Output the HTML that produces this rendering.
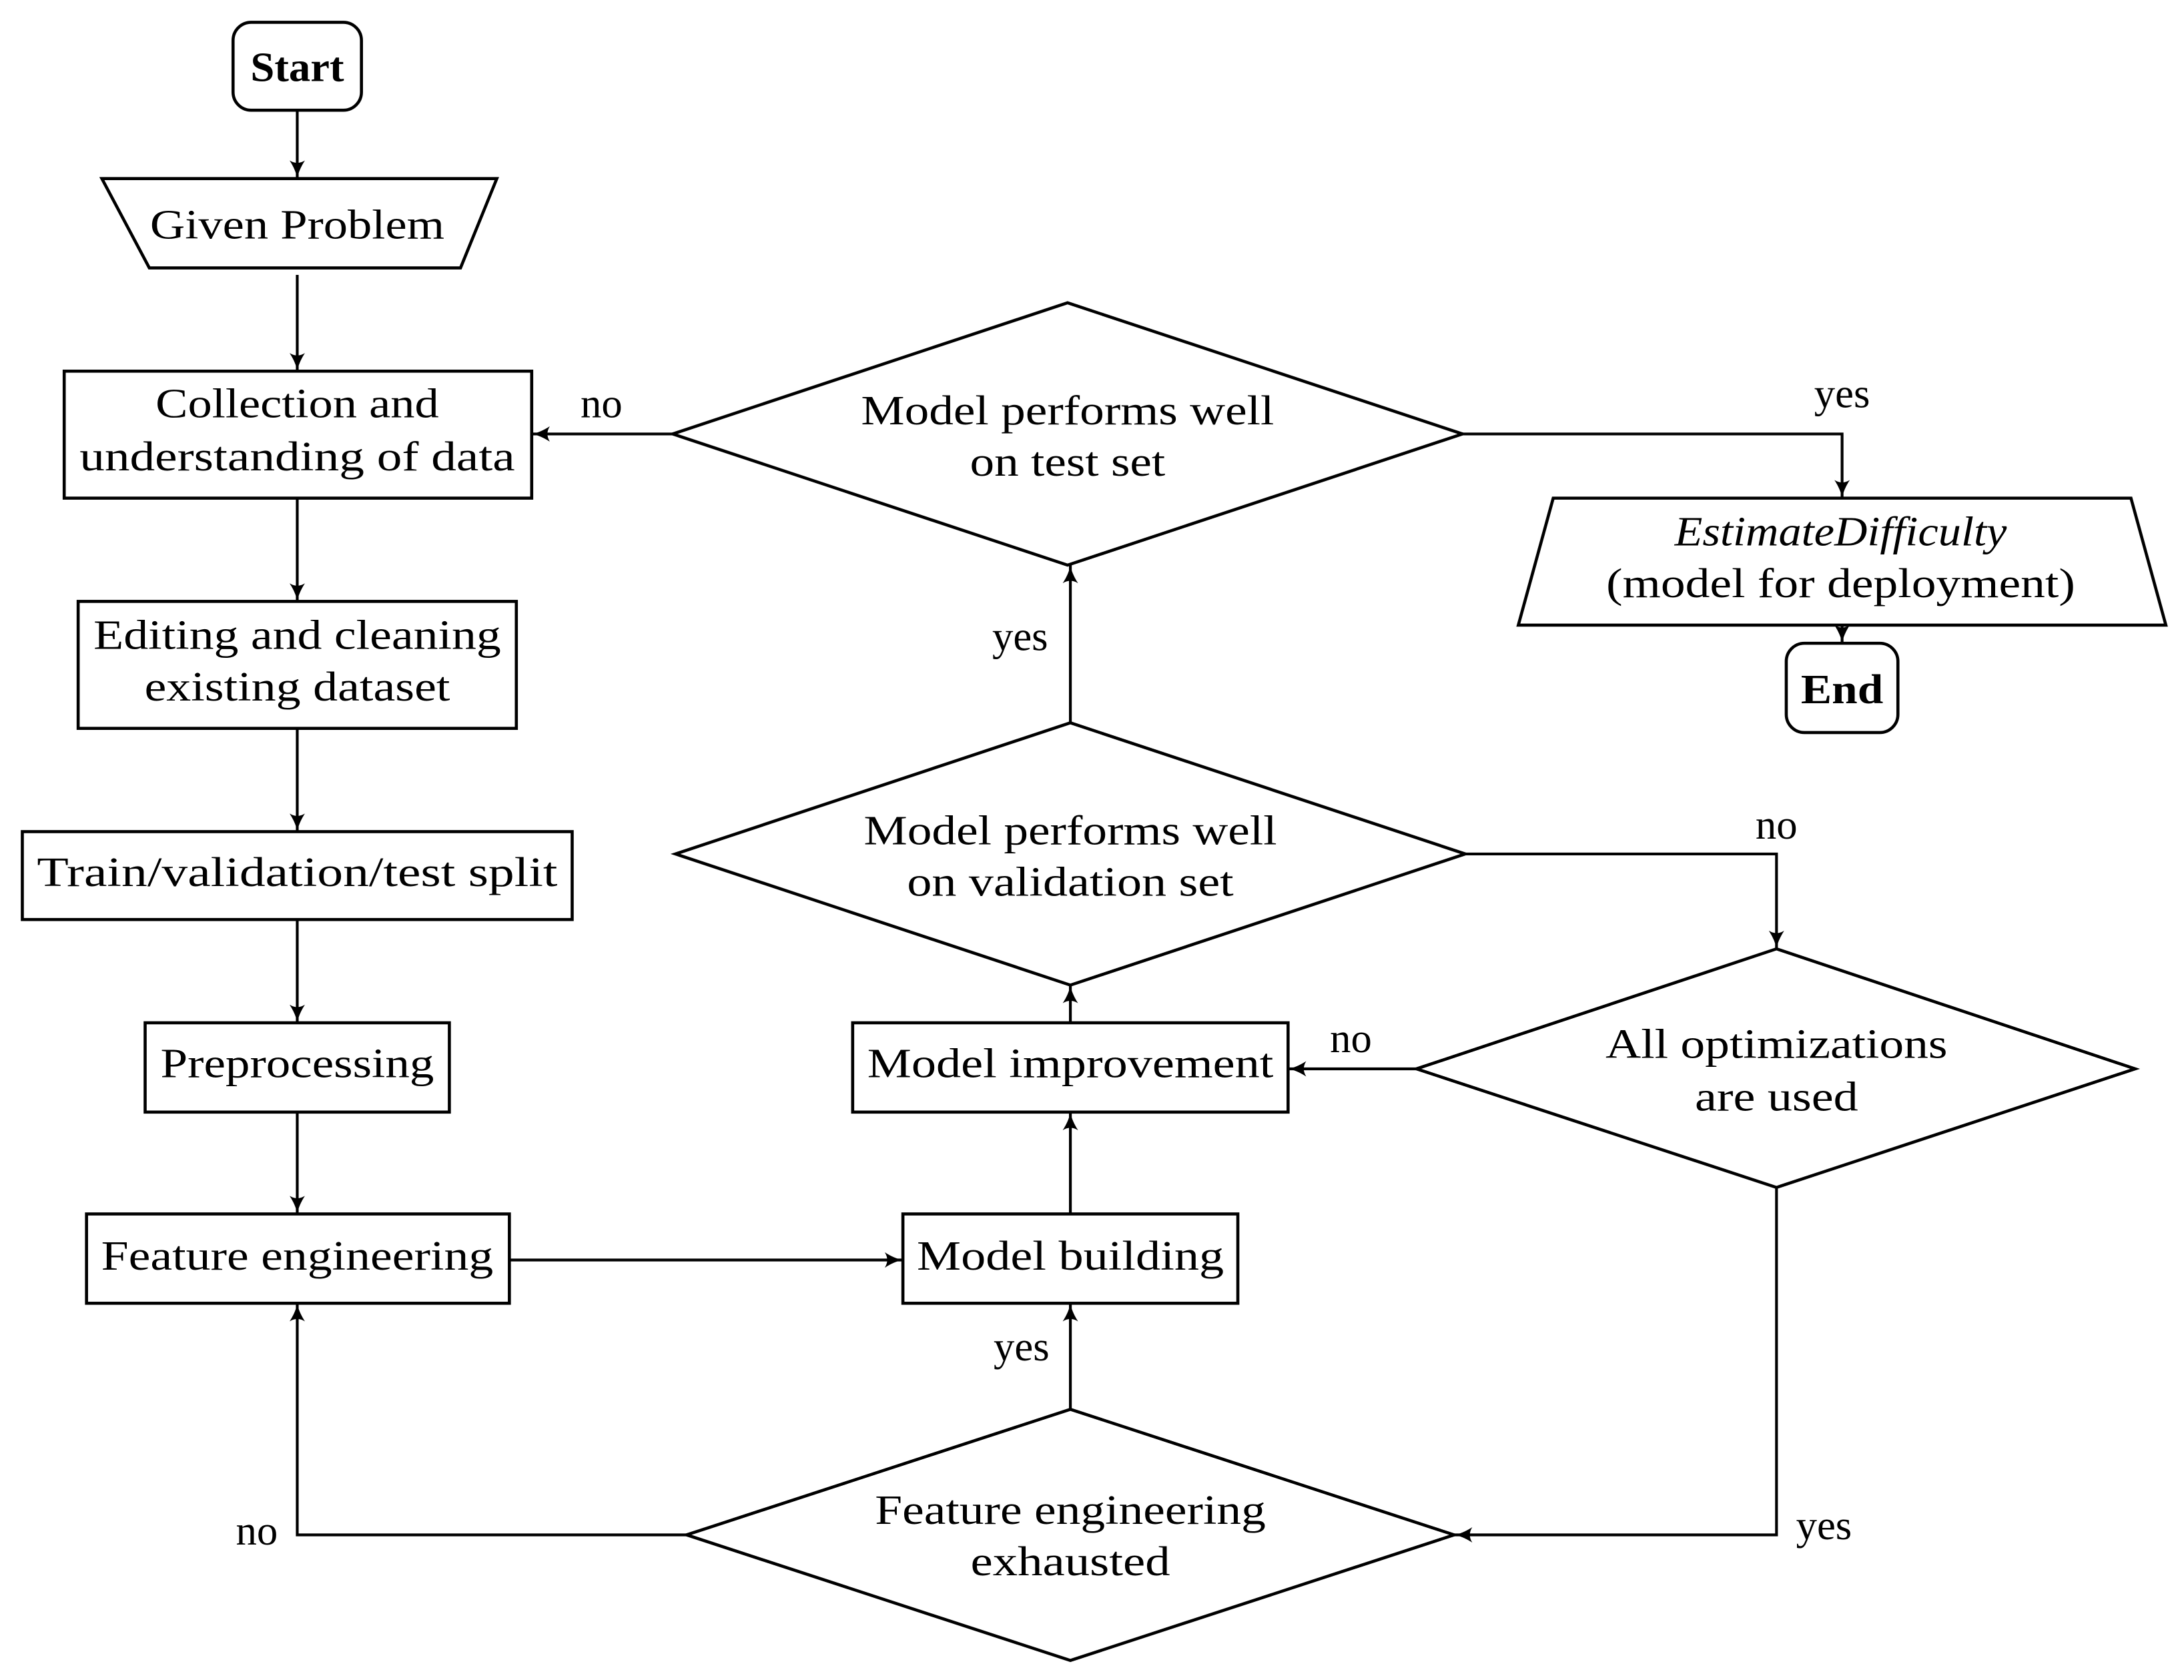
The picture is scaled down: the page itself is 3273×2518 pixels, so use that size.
<!DOCTYPE html>
<html><head><meta charset="utf-8"><style>
html,body{margin:0;padding:0;background:#fff}
svg{display:block}
text{font-family:"Liberation Serif",serif;font-size:30px;fill:#000}
</style></head><body>
<svg width="3273" height="2518" viewBox="0 0 1565 1204" xmlns="http://www.w3.org/2000/svg">
<defs>
<marker id="a" viewBox="0 0 13 11" refX="13" refY="5.5" markerWidth="13" markerHeight="11" markerUnits="userSpaceOnUse" orient="auto">
<path d="M0,0 Q7,4.5 13,5.5 Q7,6.5 0,11 Q3.5,5.5 0,0Z" fill="#000"/>
</marker>
</defs>
<g fill="none" stroke="#000" stroke-width="2.2">
<rect x="167" y="16" width="92" height="63" rx="13"/>
<polygon points="73,128 356,128 330,192 107,192"/>
<rect x="46" y="266" width="335" height="91"/>
<rect x="56" y="431" width="314" height="91"/>
<rect x="16" y="596" width="394" height="63"/>
<rect x="104" y="733" width="218" height="64"/>
<rect x="62" y="870" width="303" height="64"/>
<rect x="647" y="870" width="240" height="64"/>
<rect x="611" y="733" width="312" height="64"/>
<polygon points="482,311 765,217 1048,311 765,405"/>
<polygon points="484,612 767,518 1050,612 767,706"/>
<polygon points="1015,766 1273,680 1530,766 1273,851"/>
<polygon points="492,1100 767,1010 1042,1100 767,1190"/>
<polygon points="1113,357 1527,357 1552,448 1088,448"/>
<rect x="1280" y="461" width="80" height="64" rx="13"/>
</g>
<g fill="none" stroke="#000" stroke-width="2" marker-end="url(#a)">
<path d="M213,79V128"/>
<path d="M213,197V266"/>
<path d="M213,357V431"/>
<path d="M213,522V596"/>
<path d="M213,659V733"/>
<path d="M213,797V870"/>
<path d="M365,903H647"/>
<path d="M767,870V797"/>
<path d="M767,733V706"/>
<path d="M767,518V405"/>
<path d="M482,311H381"/>
<path d="M1048,311H1320V357"/>
<path d="M1320,448V461"/>
<path d="M1050,612H1273V680"/>
<path d="M1015,766H923"/>
<path d="M1273,851V1100H1042"/>
<path d="M767,1010V934"/>
<path d="M492,1100H213V934"/>
</g>
<g text-anchor="middle">
<text x="213" y="58" font-weight="bold" textLength="67" lengthAdjust="spacingAndGlyphs">Start</text>
<text x="213" y="171" textLength="211" lengthAdjust="spacingAndGlyphs">Given Problem</text>
<text x="213" y="299" textLength="203" lengthAdjust="spacingAndGlyphs">Collection and</text>
<text x="213" y="337" textLength="312" lengthAdjust="spacingAndGlyphs">understanding of data</text>
<text x="213" y="465" textLength="292" lengthAdjust="spacingAndGlyphs">Editing and cleaning</text>
<text x="213" y="502" textLength="219" lengthAdjust="spacingAndGlyphs">existing dataset</text>
<text x="213" y="635" textLength="373" lengthAdjust="spacingAndGlyphs">Train/validation/test split</text>
<text x="213" y="772" textLength="196" lengthAdjust="spacingAndGlyphs">Preprocessing</text>
<text x="213" y="910" textLength="281" lengthAdjust="spacingAndGlyphs">Feature engineering</text>
<text x="767" y="910" textLength="220" lengthAdjust="spacingAndGlyphs">Model building</text>
<text x="767" y="772" textLength="291" lengthAdjust="spacingAndGlyphs">Model improvement</text>
<text x="765" y="304" textLength="296" lengthAdjust="spacingAndGlyphs">Model performs well</text>
<text x="765" y="341" textLength="140" lengthAdjust="spacingAndGlyphs">on test set</text>
<text x="767" y="605" textLength="296" lengthAdjust="spacingAndGlyphs">Model performs well</text>
<text x="767" y="642" textLength="234" lengthAdjust="spacingAndGlyphs">on validation set</text>
<text x="1273" y="758" textLength="245" lengthAdjust="spacingAndGlyphs">All optimizations</text>
<text x="1273" y="796" textLength="117" lengthAdjust="spacingAndGlyphs">are used</text>
<text x="767" y="1092" textLength="280" lengthAdjust="spacingAndGlyphs">Feature engineering</text>
<text x="767" y="1129" textLength="143" lengthAdjust="spacingAndGlyphs">exhausted</text>
<text x="1319" y="391" font-style="italic" textLength="238" lengthAdjust="spacingAndGlyphs">EstimateDifficulty</text>
<text x="1319" y="428" textLength="336" lengthAdjust="spacingAndGlyphs">(model for deployment)</text>
<text x="1320" y="504" font-weight="bold" textLength="59" lengthAdjust="spacingAndGlyphs">End</text>
<text x="431" y="299">no</text>
<text x="1320" y="292">yes</text>
<text x="731" y="466">yes</text>
<text x="1273" y="601">no</text>
<text x="968" y="754">no</text>
<text x="732" y="975">yes</text>
<text x="1307" y="1103">yes</text>
<text x="184" y="1107">no</text>
</g>
</svg>
</body></html>
